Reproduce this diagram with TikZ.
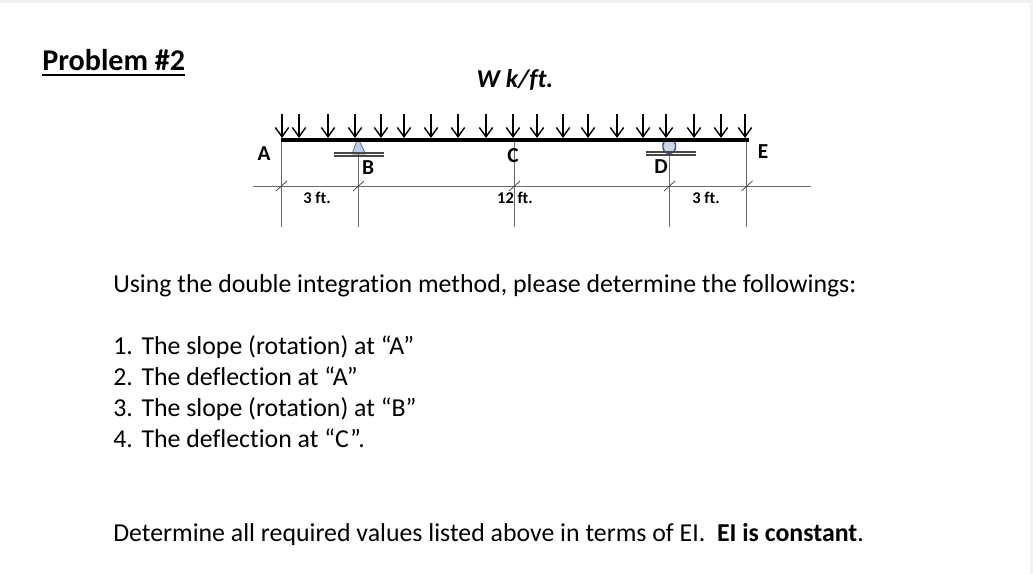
\documentclass[tikz,border=0pt]{standalone}
\usepackage{fontspec}
\setmainfont[Ligatures=NoCommon]{Carlito}
\usetikzlibrary{arrows.meta,calc}
\definecolor{pinfill}{HTML}{BCCBE6}
\definecolor{pinedge}{HTML}{4A5F8C}
\definecolor{rollfill}{HTML}{CBD5E6}
\definecolor{rolledge}{HTML}{34507F}
\newcommand{\numgap}{\hspace{6.5pt}}
\tikzset{
  x=0.75pt,y=-0.75pt,
  dimline/.style={draw=black!58,line width=0.7pt},
  beamline/.style={draw=black,line width=3.1pt},
  load/.style={draw=black,line width=1.05pt,-{Straight Barb[length=7pt,width=10pt,line width=1.05pt]}},
  bar/.style={draw=black!72,line width=1.1pt},
  tick/.style={draw=black!75,line width=0.55pt},
  pin/.style={fill=pinfill,draw=pinedge,line width=0.5pt},
  roller/.style={fill=rollfill,draw=rolledge,line width=1.1pt,rounded corners=4pt},
  body/.style={anchor=base west,inner sep=0pt,font=\fontsize{19.37}{19}\selectfont},
  pointlabel/.style={anchor=center,inner sep=0pt,font=\fontsize{16}{16}\selectfont\bfseries},
  dimlabel/.style={anchor=center,inner sep=0pt,font=\fontsize{12.3}{12}\selectfont\bfseries},
}
\begin{document}
\begin{tikzpicture}
\useasboundingbox (0,0) rectangle (1033,574);
\fill[black!6] (0,0) rectangle (1033,3);
\fill[black!5] (1030,0) rectangle (1033,574);
% text
\node[body,font=\fontsize{22.6}{22}\selectfont\bfseries] (title) at (42,71) {Problem \#2};
\draw[black,line width=1.3pt] ([yshift=-3.2pt]title.base west) -- ([yshift=-3.2pt]title.base east);
\node[anchor=center,inner sep=0pt,font=\fontsize{19.3}{19}\selectfont\bfseries\itshape] (w) at (515,80) {W k/ft.};
\node[body] (t1) at (113,293) {Using the double integration method, please determine the followings:};
\node[body] (l1) at (113,354.5) {1.\numgap The slope (rotation) at “A”};
\node[body] (l2) at (113,385.5) {2.\numgap The deflection at “A”};
\node[body] (l3) at (113,416.5) {3.\numgap The slope (rotation) at “B”};
\node[body] (l4) at (113,447.5) {4.\numgap The deflection at “C”.};
\node[body] (t2) at (113,541) {Determine all required values listed above in terms of EI.\ \ \textbf{EI is constant}.};
% beam coordinates
\coordinate (A) at (281,140); \coordinate (E) at (749,140);
\coordinate (Ax) at (281,140); \coordinate (Ab) at (281,227);
\coordinate (Bx) at (358,150); \coordinate (Bb) at (358,227);
\coordinate (Cx) at (514,140); \coordinate (Cb) at (514,227);
\coordinate (Dx) at (669,150); \coordinate (Db) at (669,227);
\coordinate (Ex) at (746.5,140); \coordinate (Eb) at (746.5,227);
\coordinate (HL) at (253,186); \coordinate (HR) at (811,186);
% dimension lines
\draw[dimline] (HL) -- (HR);
\foreach \p in {Ax,Bx,Cx,Dx,Ex}{
  \draw[dimline] (\p) -- (\p |- Ab);
  \draw[tick] ($(\p |- HL)+(-5,5)$) -- ($(\p |- HL)+(6,-5)$);
}
% supports
\coordinate (Bl) at (334,154.5); \coordinate (Br) at (384,154.5);
\coordinate (Dl) at (646,153.5); \coordinate (Dr) at (696,153.5);
\draw[pin] (358,138) -- (365.5,154) -- (352,154) -- cycle;
\draw[roller] (663,139) rectangle (675.5,153.5);
\draw[bar] ($(Bl)+(0,-1.6)$) -- ($(Br)+(0,-1.6)$);
\draw[bar] ($(Bl)+(0,1.6)$) -- ($(Br)+(0,1.6)$);
\draw[bar] ($(Dl)+(0,-1.6)$) -- ($(Dr)+(0,-1.6)$);
\draw[bar] ($(Dl)+(0,1.6)$) -- ($(Dr)+(0,1.6)$);
% beam
\draw[beamline] (A) -- (E);
% loads
\foreach \x in {282,299,328,355,381,404,431,458,486,513,537,563,588,617,643,666,694,721,745}{
  \draw[load] (\x,114) -- (\x,138);
}
% labels
\node[pointlabel] (la) at (264,154) {A};
\node[pointlabel] (lb) at (368,168) {B};
\node[pointlabel] (lc) at (513,156) {C};
\node[pointlabel] (ld) at (661,167) {D};
\node[pointlabel] (le) at (763,152) {E};
\node[dimlabel] (d1) at (317,198) {3 ft.};
\node[dimlabel] (d2) at (515,198) {12 ft.};
\node[dimlabel] (d3) at (706,198) {3 ft.};
\end{tikzpicture}
\end{document}
